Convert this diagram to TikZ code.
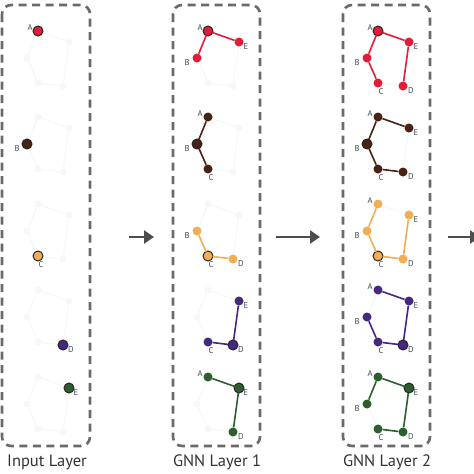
\documentclass[tikz,border=0pt]{standalone}
\usepackage{fontspec}
\setmainfont{PT Sans}
\usetikzlibrary{arrows.meta}
\definecolor{cred}{HTML}{E11D3A}
\definecolor{cbrown}{HTML}{4A2214}
\definecolor{corange}{HTML}{F2AE55}
\definecolor{cpurple}{HTML}{46287F}
\definecolor{cgreen}{HTML}{2D5E2E}
\definecolor{boxgray}{HTML}{6A6A6A}
\definecolor{faint}{HTML}{F7F7F3}
\definecolor{lblgray}{HTML}{3F4A57}
\definecolor{arrowgray}{HTML}{4D4D4D}
\definecolor{capgray}{HTML}{333333}
\tikzset{
  panelbox/.style={draw=boxgray, line width=2.6pt, dash pattern=on 8pt off 5.5pt, rounded corners=9pt},
  faintedge/.style={draw=faint, line width=1pt},
  faintnode/.style={circle, fill=faint, minimum size=7pt, inner sep=0pt},
  gnode/.style={circle, minimum size=9pt, inner sep=0pt},
  gedge/.style={line width=1.6pt},
  centre/.style={draw=black!85, line width=1pt, minimum size=10pt},
  lbl/.style={font=\fontsize{8.5}{9}\selectfont, text=lblgray, inner sep=0pt},
  lblA/.style={xshift=-8pt, yshift=4pt},
  lblB/.style={xshift=-10pt, yshift=-5pt},
  lblC/.style={xshift=3pt, yshift=-9pt},
  lblD/.style={xshift=8pt, yshift=-5pt},
  lblE/.style={xshift=7pt, yshift=-5pt},
  flow/.style={draw=arrowgray, line width=2.8pt, -{Triangle[length=10pt,width=13pt]}},
  caption/.style={font=\fontsize{16.5}{18}\selectfont, text=capgray}
}
% #1 prefix, #2 x, #3 y, #4 colour, #5 coloured nodes, #6 centre
\newcommand\gnngraph[6]{%
  \begin{scope}[shift={(#2,#3)}]
    \coordinate (#1A) at (0,0);
    \coordinate (#1E) at (31,11);
    \coordinate (#1B) at (-11,27);
    \coordinate (#1C) at (0,52);
    \coordinate (#1D) at (25,55);
  \end{scope}
  \foreach \n in {A,B,C,D,E} \node[faintnode] (#1\n f) at (#1\n) {};
  \foreach \u/\v in {A/B,B/C,C/D,D/E,E/A} \draw[faintedge] (#1\u f) -- (#1\v f);
  \foreach \n in {#5} {\node[gnode, fill=#4] (#1\n n) at (#1\n) {};
    \node[lbl, lbl\n] (#1\n t) at (#1\n) {\n};}
  \node[gnode, fill=#4, centre] (#1c) at (#1#6) {};
}
% #1 prefix, #2 colour, #3 edges
\newcommand\gnnlinks[3]{%
  \foreach \u/\v in {#3} \draw[gedge, draw=#2] (#1\u n) -- (#1\v n);
}
\begin{document}
\begin{tikzpicture}[x=1pt, y=-1pt]
  \fill[white] (0,0) rectangle (474,474);
  \useasboundingbox (0,0) rectangle (474,474);
  % panels
  \draw[panelbox] (2,5) rectangle (90,446);
  \draw[panelbox] (173,5) rectangle (260,446);
  \draw[panelbox] (343,5) rectangle (430,446);
  % input layer
  \gnngraph{pa}{38}{31}{cred}{A}{A}
  \gnngraph{pb}{38}{117}{cbrown}{B}{B}
  \gnngraph{pc}{38}{204}{corange}{C}{C}
  \gnngraph{pd}{38}{290}{cpurple}{D}{D}
  \gnngraph{pe}{38}{377}{cgreen}{E}{E}
  % GNN layer 1
  \gnngraph{qa}{208}{31}{cred}{A,B,E}{A}
  \gnnlinks{qa}{cred}{A/B,A/E}
  \gnngraph{qb}{208}{117}{cbrown}{A,B,C}{B}
  \gnnlinks{qb}{cbrown}{A/B,B/C}
  \gnngraph{qc}{208}{204}{corange}{B,C,D}{C}
  \gnnlinks{qc}{corange}{B/C,C/D}
  \gnngraph{qd}{208}{290}{cpurple}{C,D,E}{D}
  \gnnlinks{qd}{cpurple}{C/D,D/E}
  \gnngraph{qe}{208}{377}{cgreen}{A,D,E}{E}
  \gnnlinks{qe}{cgreen}{A/E,E/D}
  % GNN layer 2
  \gnngraph{ra}{378}{31}{cred}{A,B,C,D,E}{A}
  \gnnlinks{ra}{cred}{A/B,A/E,B/C,E/D}
  \gnngraph{rb}{378}{117}{cbrown}{A,B,C,D,E}{B}
  \gnnlinks{rb}{cbrown}{A/B,B/C,A/E,C/D}
  \gnngraph{rc}{378}{204}{corange}{A,B,C,D,E}{C}
  \gnnlinks{rc}{corange}{A/B,B/C,C/D,D/E}
  \gnngraph{rd}{378}{290}{cpurple}{A,B,C,D,E}{D}
  \gnnlinks{rd}{cpurple}{A/E,E/D,D/C,C/B}
  \gnngraph{re}{378}{377}{cgreen}{A,B,C,D,E}{E}
  \gnnlinks{re}{cgreen}{A/B,A/E,E/D,D/C}
  % arrows
  \coordinate (f1s) at (129,237); \coordinate (f1e) at (154,237);
  \coordinate (f2s) at (276,237); \coordinate (f2e) at (320,237);
  \coordinate (f3s) at (448,237); \coordinate (f3e) at (480,237);
  \draw[flow] (f1s) -- (f1e);
  \draw[flow] (f2s) -- (f2e);
  \draw[flow] (f3s) -- (f3e);
  % captions
  \node[caption] (cap1) at (47,462) {Input Layer};
  \node[caption] (cap2) at (217,462) {GNN Layer 1};
  \node[caption] (cap3) at (387,462) {GNN Layer 2};
\end{tikzpicture}
\end{document}
